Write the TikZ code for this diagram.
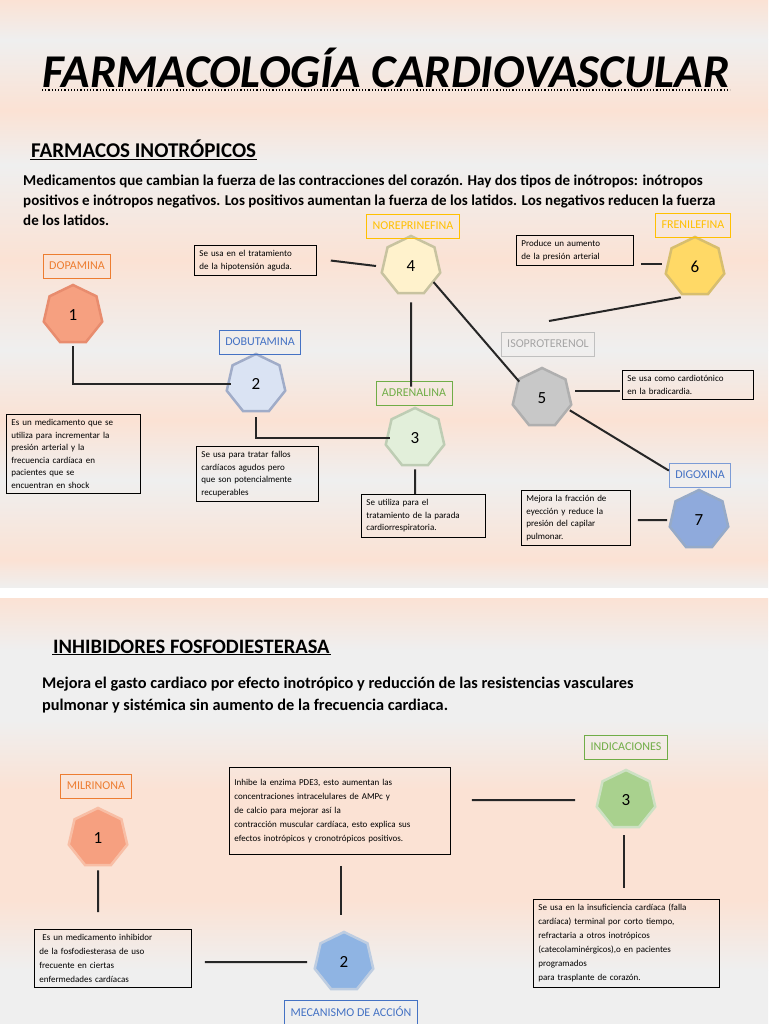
\documentclass[tikz,border=0pt]{standalone}
\usepackage{fontspec}
\setmainfont{Carlito}
\usetikzlibrary{shapes.geometric}
\definecolor{pe}{RGB}{251,226,212}
\definecolor{gr}{RGB}{239,239,239}
\definecolor{lo}{RGB}{237,125,49}
\definecolor{lb}{RGB}{68,114,196}
\definecolor{ly}{RGB}{255,192,0}
\definecolor{lg}{RGB}{112,173,71}
\definecolor{lgr}{RGB}{165,165,165}
\tikzset{
 hep/.style={regular polygon,regular polygon sides=7,minimum size=60pt,inner sep=0pt,line width=2.5pt,font=\fontsize{17}{17}\selectfont},
 lab/.style={draw,line width=0.8pt,inner xsep=6pt,minimum height=24pt,font=\fontsize{12}{12}\selectfont},
 desc/.style={draw=black,line width=0.8pt,anchor=north west,inner sep=5pt,align=left,font=\fontsize{9}{12.5}\selectfont},
 con/.style={line width=2pt,black!85},
}
\begin{document}
\begin{tikzpicture}[x=1pt,y=-1pt]
\useasboundingbox (0,0) rectangle (768,1024);
% background
\foreach \ya/\ca/\yb/\cb in {0/pe/40/gr,40/gr/110/pe,110/pe/165/gr,165/gr/260/pe,260/pe/350/gr,350/gr/420/pe,420/pe/480/gr,480/gr/560/pe,560/pe/588/gr,598/pe/650/gr,650/gr/720/gr,720/gr/790/pe,790/pe/900/pe,900/pe/970/gr,970/gr/1024/gr}
 {\shade[top color=\ca,bottom color=\cb] (0,\ya) rectangle (768,\yb);}
\fill[white] (0,588) rectangle (768,598);
% titles
\node[font=\fontsize{47}{47}\selectfont\bfseries\itshape] (title) at (386,68) {FARMACOLOGÍA CARDIOVASCULAR};
\draw[dotted,line width=1.2pt] (42,90) -- (730,90);
\node[anchor=west,font=\fontsize{21}{21}\selectfont\bfseries,inner sep=1pt] (t1) at (30,149) {FARMACOS INOTRÓPICOS};
\draw[line width=1pt] (t1.south west) -- (t1.south east);
\node[anchor=north west,align=left,inner sep=0pt,font=\fontsize{15}{20}\selectfont\bfseries] (p1) at (23,175) {Medicamentos que cambian la fuerza de las contracciones del corazón. Hay dos tipos de inótropos: inótropos\\ positivos e inótropos negativos. Los positivos aumentan la fuerza de los latidos. Los negativos reducen la fuerza\\ de los latidos.};
% heptagons
\node[hep,fill={rgb,255:red,246;green,160;blue,128},draw={rgb,255:red,232;green,140;blue,110}] (h1) at (73,315) {1};
\node[hep,fill={rgb,255:red,218;green,227;blue,243},draw={rgb,255:red,160;green,172;blue,200}] (h2) at (256,384) {2};
\node[hep,fill={rgb,255:red,226;green,239;blue,218},draw={rgb,255:red,190;green,205;blue,180}] (h3) at (415,438) {3};
\node[hep,fill={rgb,255:red,255;green,242;blue,204},draw={rgb,255:red,200;green,195;blue,160}] (h4) at (411,266) {4};
\node[hep,fill={rgb,255:red,200;green,200;blue,200},draw={rgb,255:red,175;green,175;blue,175}] (h5) at (542,398) {5};
\node[hep,fill={rgb,255:red,255;green,217;blue,102},draw={rgb,255:red,215;green,190;blue,110}] (h6) at (695,267) {6};
\node[hep,fill={rgb,255:red,143;green,170;blue,220},draw={rgb,255:red,150;green,170;blue,200}] (h7) at (699,520) {7};
% labels
\node[lab,draw=lo,text=lo] (l1) at (77,266) {DOPAMINA};
\node[lab,draw=lb,text=lb] (l2) at (260,342) {DOBUTAMINA};
\node[lab,draw=ly,text=ly] (l4) at (413,226) {NOREPRINEFINA};
\node[lab,draw=ly,text=ly] (l6) at (693,225) {FRENILEFINA};
\node[lab,draw=lgr!70,text=lgr] (l5) at (548,344) {ISOPROTERENOL};
\node[lab,draw=lg,text=lg] (l3) at (414,393) {ADRENALINA};
\node[lab,draw=lb!70,text=lb] (l7) at (700,475) {DIGOXINA};
% descriptions
\node[desc,text width=124pt] (d1) at (6,414) {Es un medicamento que se\\ utiliza para incrementar la\\ presión arterial y la\\ frecuencia cardíaca en\\ pacientes que se\\ encuentran en shock\\[4pt]};
\node[desc,text width=112pt] (d2) at (196,446) {Se usa para tratar fallos\\ cardíacos agudos pero\\ que son potencialmente\\ recuperables\\[6pt]};
\node[desc,text width=112pt] (d4) at (194,245) {Se usa en el tratamiento\\ de la hipotensión aguda.};
\node[desc,text width=114pt] (d3) at (361,494) {Se utiliza para el\\ tratamiento de la parada\\ cardiorrespiratoria.\\[2pt]};
\node[desc,text width=107pt] (d6) at (516,235) {Produce un aumento\\ de la presión arterial\\[1pt]};
\node[desc,text width=121pt] (d5) at (622,370) {Se usa como cardiotónico\\ en la bradicardia.};
\node[desc,text width=99pt] (d7) at (521,490) {Mejora la fracción de\\ eyección y reduce la\\ presión del capilar\\ pulmonar.};
% connectors
\draw[con] ([yshift=-3pt]h1.south) |- ([xshift=4pt]h2.west);
\draw[con] ([yshift=-5pt]h2.south) |- ([xshift=4pt]h3.west);
\draw[con] ([yshift=-3pt]h3.south) -- (d3.north -| h3);
\draw[con] ([yshift=-8pt]h4.south) -- ([yshift=-6pt]l3.north -| h4);
\draw[con] ([xshift=14pt]d4.east) -- ([xshift=-6pt]h4.west);
\draw[con] ([shift={(4pt,6pt)}]h4.-50) -- ([shift={(-4pt,-6pt)}]h5.130);
\draw[con] ([xshift=7pt]d6.east |- 0,264) -- (662,264);
\draw[con] ([shift={(-4pt,-2pt)}]h6.-110) -- (549,321);
\draw[con] ([xshift=4pt]h5.east |- 0,391) -- ([xshift=-2pt]d5.west |- 0,391);
\draw[con] ([shift={(3pt,2pt)}]h5.-30) -- ([yshift=-8pt]l7.north west);
\draw[con] ([xshift=7pt]d7.east |- h7) -- ([xshift=-3pt]h7.west);
% second part
\node[anchor=west,font=\fontsize{20.5}{20.5}\selectfont\bfseries,inner sep=1pt] (t2) at (52,647) {INHIBIDORES FOSFODIESTERASA};
\draw[line width=1pt] (t2.south west) -- (t2.south east);
\node[anchor=north west,align=left,inner sep=0pt,font=\fontsize{16.3}{22}\selectfont\bfseries] (p2) at (42,677) {Mejora el gasto cardiaco por efecto inotrópico y reducción de las resistencias vasculares\\ pulmonar y sistémica sin aumento de la frecuencia cardiaca.};
\node[hep,fill={rgb,255:red,246;green,160;blue,128},draw={rgb,255:red,248;green,190;blue,165}] (b1) at (98,838) {1};
\node[hep,fill={rgb,255:red,143;green,180;blue,227},draw={rgb,255:red,190;green,205;blue,225}] (b2) at (344,962) {2};
\node[hep,fill={rgb,255:red,169;green,209;blue,142},draw={rgb,255:red,205;green,225;blue,195}] (b3) at (626,800) {3};
\node[lab,draw=lo,text=lo] (m1) at (96,786) {MILRINONA};
\node[lab,draw=lb,text=lb] (m2) at (351,1012) {MECANISMO DE ACCIÓN};
\node[lab,draw=lg,text=lg] (m3) at (626,747) {INDICACIONES};
\node[desc,text width=147pt,font=\fontsize{9}{14}\selectfont] (e1) at (34,929) {\ Es un medicamento inhibidor\\ de la fosfodiesterasa de uso\\ frecuente en ciertas\\ enfermedades cardíacas};
\node[desc,text width=211pt,minimum height=87pt,font=\fontsize{9}{14}\selectfont] (e2) at (229,767) {Inhibe la enzima PDE3, esto aumentan las\\ concentraciones intracelulares de AMPc y\\ de calcio para mejorar así la\\ contracción muscular cardíaca, esto explica sus\\ efectos inotrópicos y cronotrópicos positivos.};
\node[desc,text width=176pt,font=\fontsize{9}{14}\selectfont] (e3) at (533,899) {Se usa en la insuficiencia cardíaca (falla\\ cardíaca) terminal por corto tiempo,\\ refractaria a otros inotrópicos\\ (catecolaminérgicos),o en pacientes\\ programados\\ para trasplante de corazón.};
\draw[con] ([yshift=-4pt]b1.south) -- ([yshift=17pt]e1.north -| b1);
\draw[con] ([xshift=13pt]e1.east |- b2) -- ([xshift=-8pt]b2.west);
\draw[con] ([yshift=-11pt]e2.south -| 341,0) -- ([yshift=16pt]b2.north -| 341,0);
\draw[con] ([xshift=21pt]e2.east |- b3) -- ([xshift=-22pt]b3.west);
\draw[con] ([yshift=-7pt]b3.south -| 624,0) -- ([yshift=11pt]e3.north -| 624,0);
\end{tikzpicture}
\end{document}
